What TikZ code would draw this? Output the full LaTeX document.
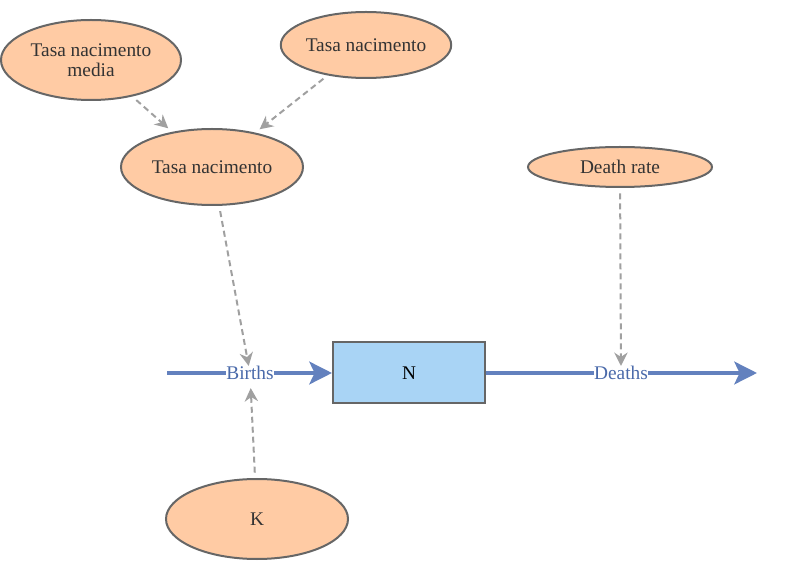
\documentclass[tikz,border=0pt]{standalone}
\usepackage{fontspec}
\setmainfont{Liberation Serif}
\usetikzlibrary{shapes.geometric,arrows.meta}
\definecolor{ef}{HTML}{FFCBA4}
\definecolor{es}{HTML}{666666}
\definecolor{rf}{HTML}{A9D4F5}
\definecolor{bl}{HTML}{6381BE}
\definecolor{bt}{HTML}{4A6AAA}
\definecolor{dg}{HTML}{A0A0A0}
\begin{document}
\begin{tikzpicture}[x=0.75pt,y=-0.75pt,
 el/.style={ellipse,draw=es,fill=ef,line width=1.5pt,inner sep=0pt,font=\fontsize{14.5}{15}\selectfont,align=center,text=black!80},
 dsh/.style={draw=dg,dash pattern=on 4.5pt off 3pt,line width=1.5pt,-{Stealth[length=10pt,width=10pt]}},
 flow/.style={draw=bl,line width=3pt,-{Stealth[length=17pt,width=17pt,inset=4pt]}},
 lab/.style={font=\fontsize{14.5}{15}\selectfont,text=bt,fill=white,inner sep=0pt}]
\useasboundingbox (0,0) rectangle (800,573);
\node[el,minimum width=135pt,minimum height=60pt] (tm) at (91,60) {Tasa nacimento\\media};
\node[el,minimum width=117pt,minimum height=49.5pt] (t2) at (366,45) {Tasa nacimento};
\node[el,minimum width=136.5pt,minimum height=57pt] (t1) at (212,167) {Tasa nacimento};
\node[el,minimum width=138pt,minimum height=30pt] (dr) at (620,167) {Death rate};
\node[el,minimum width=136.5pt,minimum height=60pt] (k) at (257,519) {K};
\node[draw=es,fill=rf,line width=1.5pt,minimum width=114pt,minimum height=45.75pt,font=\fontsize{14.5}{15}\selectfont] (n) at (409,373) {N};
\coordinate (s) at (167,373);
\coordinate (e) at (757,373);
\node[lab] (b) at (250,373) {Births};
\node[lab] (d) at (621,373) {Deaths};
\draw[draw=bl,line width=3pt] (s) -- (b.west);
\draw[flow] (b.east) -- (n.west);
\draw[draw=bl,line width=3pt] (n.east) -- (d.west);
\draw[flow] (d.east) -- (e);
\draw[dsh,shorten <=4pt,shorten >=4pt] (tm) -- (t1);
\draw[dsh,shorten <=4pt,shorten >=4pt] (t2) -- (t1);
\draw[dsh,shorten <=4pt] (t1) -- (b);
\draw[dsh,shorten <=4pt] (dr) -- (d);
\draw[dsh,shorten <=4pt,shorten >=6pt] (k) -- (b);
\end{tikzpicture}
\end{document}
